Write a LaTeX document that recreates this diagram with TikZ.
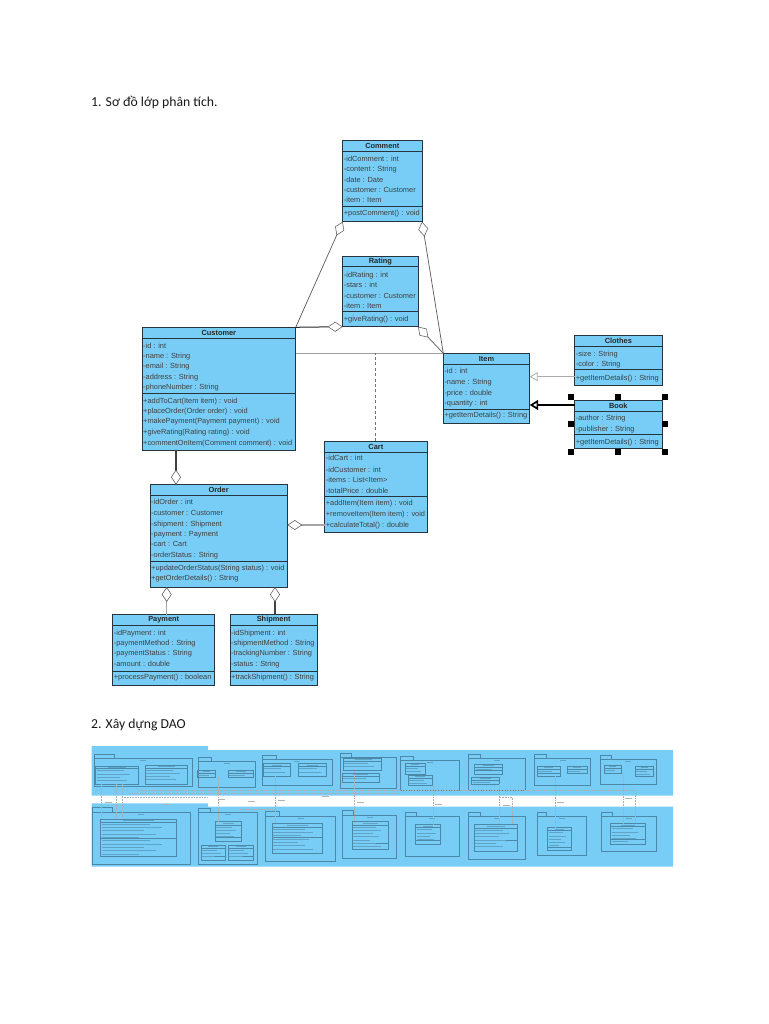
\documentclass[tikz,border=0pt]{standalone}
\usepackage{fontspec}
\setmainfont{Liberation Sans}
\newfontfamily\headfont{Carlito}
\usetikzlibrary{arrows.meta,calc}
\definecolor{umlblue}{HTML}{78CDF6}
\definecolor{umlline}{HTML}{26343E}
\definecolor{minline}{HTML}{4C88A8}
\definecolor{greekline}{HTML}{5FA3C6}
\tikzset{
  umlclass/.style={draw=umlline,fill=umlblue,line width=0.9pt,inner sep=0pt,outer sep=0pt},
  umlsep/.style={draw=umlline,line width=0.6pt},
  umltitle/.style={font=\fontsize{7.4}{8}\selectfont\bfseries,text=black!85,inner sep=0pt},
  umlmem/.style={font=\fontsize{7.4}{8}\selectfont,text=black!75,inner sep=0pt,anchor=base west},
  heading/.style={font=\headfont\fontsize{13.7}{16}\selectfont,text=black!90,inner sep=0pt,anchor=base west},
  aggr/.style={-{Diamond[open,length=15pt,width=10pt,line width=0.6pt,color=black!60]},line width=0.7pt,draw=black!65},
  aggrdark/.style={aggr,line width=1.1pt,draw=black!75},
  aggrpale/.style={aggr,line width=1.1pt,draw=black!35},
  assoc/.style={line width=0.9pt,draw=black!38},
  depend/.style={line width=1.2pt,draw=black!55,dash pattern=on 3pt off 2.4pt},
  inhpale/.style={-{Triangle[open,length=8pt,width=9pt,line width=0.8pt]},line width=1.2pt,draw=black!33},
  inhthick/.style={-{Triangle[open,length=8.5pt,width=10pt,line width=1.7pt]},line width=2.6pt,draw=black},
  handle/.style={fill=black,draw=none,minimum size=6pt,inner sep=0pt,outer sep=0pt},
  panel/.style={fill=umlblue,draw=none},
  minbox/.style={draw=minline,line width=0.45pt},
  greek/.style={draw=greekline,line width=0.9pt},
  miniconn/.style={draw=black!32,line width=0.4pt,dash pattern=on 0.8pt off 0.8pt},
}
\newcounter{memc}
% name x1 y1 x2 y2 sep1 sep2 title
\newcommand{\umlbox}[8]{%
  \pgfmathsetlengthmacro{\bw}{(#4-#2)*1pt}\pgfmathsetlengthmacro{\bh}{(#5-#3)*1pt}%
  \node[umlclass,minimum width=\bw,minimum height=\bh] (#1) at ({(#2+#4)/2},{(#3+#5)/2}) {};
  \draw[umlsep] (#2,#6) -- (#4,#6);
  \draw[umlsep] (#2,#7) -- (#4,#7);
  \node[umltitle] (#1-title) at ({(#2+#4)/2},{(#3+#6)/2}) {#8};
}
% x centre-y text
\newcommand{\mem}[3]{\stepcounter{memc}\node[umlmem] (m\arabic{memc}) at (#1+1,#2+2.6) {#3};}
% package: x tabright tabtop bodytop right bottom
\newcommand{\pkg}[6]{%
  \draw[minbox] (#1,#4) rectangle (#5,#6);
  \draw[minbox] (#1,#4) -- (#1,#3) -- (#2,#3) -- (#2,#4);
  \draw[greek,line width=0.6pt] ({(#1+#5)/2-3},{#4+2}) -- ({(#1+#5)/2+3},{#4+2});
}
% mini class: x1 y1 x2 y2 sep1 sep2
\newcommand{\mini}[6]{%
  \draw[minbox] (#1,#2) rectangle (#3,#4);
  \draw[minbox] (#1,#5) -- (#3,#5);
  \draw[minbox] (#1,#6) -- (#3,#6);
  \draw[greek] ({(#1+#3)/2-0.2*(#3-#1)},{(#2+#5)/2}) -- ({(#1+#3)/2+0.2*(#3-#1)},{(#2+#5)/2});
  \pgfmathtruncatemacro{\nl}{max(1,(#4-#5-1)/3.3)}%
  \foreach \i in {1,...,\nl}{
    \pgfmathsetmacro{\yy}{#5+3.3*\i-1.3}
    \pgfmathsetmacro{\ll}{0.5+0.4*mod(\i*7,5)/5}
    \draw[greek] (#1+0.8,\yy) -- ({#1+0.8+\ll*(#3-#1-1.6)},\yy);
  }
}
\newcommand{\bandlabel}[2]{\draw[draw=black!30,line width=0.9pt] (#1-3.5,#2) -- (#1+3.5,#2);}
\begin{document}
\begin{tikzpicture}[x=1pt,y=-1pt]
\useasboundingbox (0,0) rectangle (768,1024);
\fill[white] (0,0) rectangle (768,1024);

\node[heading] (head1) at (91,107) {1. Sơ đồ lớp phân tích.};
\node[heading] (head2) at (91,728) {2. Xây dựng DAO};

% ---------- classes
\umlbox{comment}{342.7}{140}{422}{221.7}{151}{206}{Comment}
\mem{342.7}{159}{-idComment : int}
\mem{342.7}{169.3}{-content : String}
\mem{342.7}{179.7}{-date : Date}
\mem{342.7}{189.7}{-customer : Customer}
\mem{342.7}{200}{-item : Item}
\mem{342.7}{213.3}{+postComment() : void}

\umlbox{rating}{342.7}{256.7}{418}{326.7}{266.7}{311.7}{Rating}
\mem{342.7}{274.7}{-idRating : int}
\mem{342.7}{285}{-stars : int}
\mem{342.7}{295.7}{-customer : Customer}
\mem{342.7}{306}{-item : Item}
\mem{342.7}{319.3}{+giveRating() : void}

\umlbox{customer}{142}{327.3}{295.7}{450.3}{338.3}{393.3}{Customer}
\mem{142}{345.7}{-id : int}
\mem{142}{356}{-name : String}
\mem{142}{366.3}{-email : String}
\mem{142}{376.7}{-address : String}
\mem{142}{387}{-phoneNumber : String}
\mem{142}{400.7}{+addToCart(Item item) : void}
\mem{142}{411}{+placeOrder(Order order) : void}
\mem{142}{421.3}{+makePayment(Payment payment) : void}
\mem{142}{431.7}{+giveRating(Rating rating) : void}
\mem{142}{442.7}{+commentOnItem(Comment comment) : void}

\umlbox{cart}{324.7}{441}{427}{532}{452.3}{496.7}{Cart}
\mem{324.7}{458.3}{-idCart : int}
\mem{324.7}{470}{-idCustomer : int}
\mem{324.7}{480.3}{-items : List<Item>}
\mem{324.7}{490.7}{-totalPrice : double}
\mem{324.7}{503}{+addItem(Item item) : void}
\mem{324.7}{514.3}{+removeItem(Item item) : void}
\mem{324.7}{524.7}{+calculateTotal() : double}

\umlbox{order}{150}{484.7}{287.3}{587}{495.7}{561}{Order}
\mem{150}{502}{-idOrder : int}
\mem{150}{513.3}{-customer : Customer}
\mem{150}{523.7}{-shipment : Shipment}
\mem{150}{534}{-payment : Payment}
\mem{150}{544.3}{-cart : Cart}
\mem{150}{554.7}{-orderStatus : String}
\mem{150}{568.3}{+updateOrderStatus(String status) : void}
\mem{150}{578.3}{+getOrderDetails() : String}

\umlbox{payment}{112.7}{614.7}{214.7}{685.3}{625.3}{671.3}{Payment}
\mem{112.7}{632.7}{-idPayment : int}
\mem{112.7}{643}{-paymentMethod : String}
\mem{112.7}{653.3}{-paymentStatus : String}
\mem{112.7}{664.3}{-amount : double}
\mem{112.7}{677}{+processPayment() : boolean}

\umlbox{shipment}{230}{614.7}{317.3}{685.3}{625.3}{671.3}{Shipment}
\mem{230}{632.7}{-idShipment : int}
\mem{230}{643}{-shipmentMethod : String}
\mem{230}{653.3}{-trackingNumber : String}
\mem{230}{664.3}{-status : String}
\mem{230}{677}{+trackShipment() : String}

\umlbox{item}{443.3}{353.3}{529.7}{423}{364}{409}{Item}
\mem{443.3}{370.7}{-id : int}
\mem{443.3}{382}{-name : String}
\mem{443.3}{392.7}{-price : double}
\mem{443.3}{403}{-quantity : int}
\mem{443.3}{415.3}{+getItemDetails() : String}

\umlbox{clothes}{574.7}{335.7}{662}{385.3}{346}{369.3}{Clothes}
\mem{574.7}{353.7}{-size : String}
\mem{574.7}{364}{-color : String}
\mem{574.7}{378}{+getItemDetails() : String}

\umlbox{book}{574.7}{400.7}{662}{448}{411.7}{434.3}{Book}
\mem{574.7}{418.3}{-author : String}
\mem{574.7}{428.7}{-publisher : String}
\mem{574.7}{442}{+getItemDetails() : String}

% selection handles of Book
\foreach \hn/\hx/\hy in {a/571.3/396.7,b/617.7/396.7,c/665.3/396.7,d/571.3/424.3,e/665.3/424.3,f/571.3/452,g/617.7/452,h/665.3/452}{
  \node[handle] (h\hn) at (\hx,\hy) {};
}

% ---------- connectors
\coordinate (oc) at (176,484.7);
\coordinate (op) at (166.7,587);
\coordinate (os) at (275,587);
\coordinate (oe) at (287.3,525);
\coordinate (ic) at (529.7,376.7);
\coordinate (ib) at (529.7,405);
\draw[aggr] (customer.north east) -- (comment.south west);
\draw[aggr] (item.north west) -- (comment.south east);
\draw[aggr,draw=black!85,line width=1pt] (customer.north east) -- (rating.south west);
\draw[aggr] (item.north west) -- (rating.south east);
\draw[assoc] (customer.east |- item.north west) -- (item.north west);
\draw[depend] (cart.north) -- (cart.north |- item.north west);
\draw[aggrdark] (oc |- customer.south) -- (oc);
\draw[aggrpale] (oe -| cart.west) -- (oe);
\draw[aggrpale] (op |- payment.north) -- (op);
\draw[aggrdark] (os |- shipment.north) -- (os);
\draw[inhpale] (ic -| clothes.west) -- (ic);
\draw[inhthick] (ib -| book.west) -- (ib);

% ---------- DAO picture
\fill[panel] (91.7,746) -- (208,746) -- (208,750) -- (673,750) -- (673,795.7) -- (91.7,795.7) -- cycle;
\fill[panel] (91.7,803.3) -- (208,803.3) -- (208,806.7) -- (673,806.7) -- (673,866.7) -- (91.7,866.7) -- cycle;

% upper packages
\pkg{94.3}{114}{754.3}{758.3}{192.3}{786.7}
\mini{95.7}{766}{138.3}{784.3}{768.7}{784.3}
\mini{145}{765}{187.7}{784}{768}{784}
\pkg{198.3}{211}{757.3}{761.7}{255.7}{787.7}
\mini{197.3}{770}{215}{777.7}{773}{777.7}
\mini{228.3}{770}{253.3}{777.7}{773}{777.7}
\pkg{262.3}{276}{755.3}{759}{332.3}{785.7}
\mini{263.3}{763.7}{290.7}{776}{766.7}{776}
\mini{298.3}{763.7}{326.3}{776}{766.7}{776}
\pkg{340.3}{351}{753.3}{757.3}{396.7}{788.3}
\mini{343.3}{758.3}{381}{770.7}{761.3}{770.7}
\mini{342.3}{773.3}{379}{782.7}{776.3}{782.7}
\pkg{400.7}{413.3}{756}{760.7}{459}{790}
\mini{405.3}{763.3}{425}{774.3}{766.3}{774.3}
\mini{408}{775}{432.3}{785.7}{778}{785.7}
\pkg{468.3}{480}{754.3}{758.3}{525.7}{790.7}
\mini{474.7}{764}{502}{774.3}{767}{770.5}
\mini{471.7}{777.3}{499.3}{784.3}{780}{784.3}
\pkg{534.7}{546.7}{754.3}{758.3}{590.7}{785.7}
\mini{537.3}{766}{560}{776}{769}{773}
\mini{567.3}{766}{587.3}{773.3}{769}{773.3}
\pkg{600}{611.7}{755.3}{759.3}{656}{784.3}
\mini{604}{765}{621.7}{773.3}{768}{773.3}
\mini{635.3}{766}{653.3}{776.7}{769}{776.7}

% lower packages
\pkg{92.3}{112.3}{807.7}{812.7}{190}{864}
\mini{100.7}{819.3}{176.3}{856.7}{822.3}{838.3}
\pkg{198.3}{210.3}{808.7}{812.7}{257.7}{864}
\mini{215}{821}{241.7}{841}{825}{837.7}
\mini{201}{845.7}{225.7}{860}{848}{856.5}
\mini{228.3}{845.7}{253}{860}{848}{856.5}
\pkg{265.7}{279.7}{811}{816.3}{335.7}{861.3}
\mini{272.3}{823.3}{322.7}{853.3}{827.3}{837.7}
\pkg{342.3}{353.7}{810}{815}{396.7}{858.3}
\mini{352.3}{821}{388.3}{849.3}{825}{843}
\pkg{405}{416}{812}{816.7}{459.7}{856.7}
\mini{415.7}{824.3}{440.7}{844}{827.7}{840.7}
\pkg{468.3}{480}{812}{816.7}{525.7}{859.3}
\mini{474.3}{824}{517.7}{851}{828.3}{840}
\pkg{537.7}{546.7}{812}{816.7}{586}{855.7}
\mini{547.7}{827.7}{571}{850.7}{830.7}{847.3}
\pkg{601.3}{612.3}{812}{816.7}{656.7}{851.7}
\mini{610.7}{823.3}{645}{844.3}{826.7}{839.3}

% links between the two rows
\foreach \lx/\ya/\yb in {101/784.3/819.3,116/784.3/819.3,122/784.3/819.3,218.3/777.7/821,275/776/823.3,354.3/770.7/821,433.3/785.7/824.3,499.3/784.3/824,554.7/776/827.7,622.7/773.3/823.3,635.3/790/823.3}{
  \draw[miniconn] (\lx,\ya) -- (\lx,\yb);
}
\draw[miniconn] (138,790) -- (635.3,790);
\draw[miniconn] (130,792.7) -- (400,792.7);
\draw[miniconn] (122,797.5) -- (208,797.5) (240,809) -- (275,809) (433,797) -- (433,806);
\draw[miniconn] (500,797) -- (512,797) -- (512,824);
\bandlabel{108}{802.7}
\bandlabel{166}{804.2}
\bandlabel{221.7}{799.7}
\bandlabel{251.7}{801}
\bandlabel{281.7}{800.7}
\bandlabel{325}{796}
\bandlabel{360}{802.7}
\bandlabel{438}{804}
\bandlabel{506}{805}
\bandlabel{560}{802}
\bandlabel{628}{798}
\end{tikzpicture}
\end{document}
